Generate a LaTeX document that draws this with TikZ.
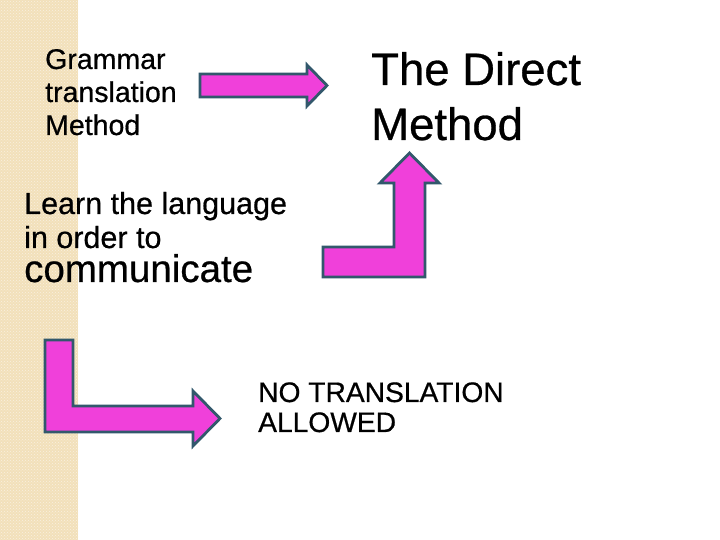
\documentclass[tikz,border=0pt]{standalone}
\usepackage{fontspec}
\usepackage{tkz-euclide}
\usetikzlibrary{patterns}
\setmainfont[FakeBold=0.6]{Liberation Sans}
\definecolor{arrowpink}{RGB}{240,64,218}
\definecolor{arrowedge}{RGB}{50,88,108}
\definecolor{stripbeige}{RGB}{242,224,186}
\tikzset{>=stealth,
  bigarrow/.style={fill=arrowpink, draw=arrowedge, line width=2.8pt, line join=miter},
  slidetext/.style={anchor=base west, inner sep=0pt, align=left}}

\begin{document}
\begin{tikzpicture}[x=1pt,y=1pt]
    \useasboundingbox (0,0) rectangle (720,540);
    \fill[white] (0,0) rectangle (720,540);
    % checkered strip on the left
    \fill[stripbeige] (0,0) rectangle (78,540);
    \fill[pattern=crosshatch dots, pattern color=white!55!stripbeige] (0,0) rectangle (78,540);
    % arrow from grammar translation to the direct method
    \tkzDefPoints{200/466/a1, 307/466/a2, 307/475/a3, 327/454.5/a4,
                  307/434/a5, 307/443/a6, 200/443/a7}
    \tkzDrawPolygon[bigarrow](a1,a2,a3,a4,a5,a6,a7)
    % bent arrow up to the direct method
    \tkzDefPoints{323/263/b1, 425/263/b2, 425/357/b3, 439/357/b4, 409.5/387/b5,
                  380/357/b6, 394/357/b7, 394/293/b8, 323/293/b9}
    \tkzDrawPolygon[bigarrow](b1,b2,b3,b4,b5,b6,b7,b8,b9)
    % bent arrow to no translation
    \tkzDefPoints{45/200/c1, 73/200/c2, 73/134/c3, 193/134/c4, 193/149/c5,
                  220/121.5/c6, 193/94/c7, 193/108/c8, 45/108/c9}
    \tkzDrawPolygon[bigarrow](c1,c2,c3,c4,c5,c6,c7,c8,c9)
    % texts (base = last line)
    \node[slidetext, font=\fontsize{28.5}{33}\selectfont] (grammar) at (45,405)
        {Grammar\\translation\\Method};
    \node[slidetext, font=\fontsize{45.5}{55}\selectfont] (direct) at (371,400)
        {The Direct\\Method};
    \node[slidetext, font=\fontsize{30.5}{34}\selectfont] (learn) at (24,292)
        {Learn the language\\in order to};
    \node[slidetext, font=\fontsize{38.5}{44}\selectfont] (communicate) at (24,258)
        {communicate};
    \node[slidetext, font=\fontsize{28.2}{30}\selectfont] (notrans) at (258,108)
        {NO TRANSLATION\\ALLOWED};
\end{tikzpicture}
\end{document}
